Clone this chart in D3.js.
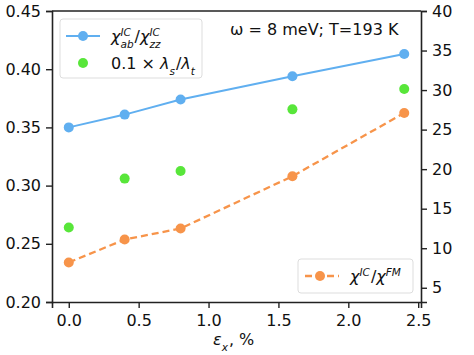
<!DOCTYPE html>
<html><head><meta charset="utf-8">
<script src="https://cdn.jsdelivr.net/npm/d3@7"></script>
<style>body{margin:0;background:#fff}svg{display:block;font-family:"DejaVu Sans",sans-serif}</style>
</head><body>
<script>
const strain = [0, 0.4, 0.8, 1.6, 2.4];
const chiRatioAbZz = [0.350, 0.361, 0.374, 0.394, 0.413];
const lambdaRatio = [0.264, 0.306, 0.3125, 0.3655, 0.383];
const chiICoverFM = [8.2, 11.1, 12.5, 19.1, 27.1];
const xTicks = [0, 0.5, 1.0, 1.5, 2.0, 2.5];
const yLeftTicks = [0.20, 0.25, 0.30, 0.35, 0.40, 0.45];
const yRightTicks = [5, 10, 15, 20, 25, 30, 35, 40];

const W = 474, H = 355;
const m = {l: 52, r: 421, t: 11, b: 302};
const blue = "#60aff0", green = "#58e63a", orange = "#f7944a";

const svg = d3.select("body").append("svg").attr("width", W).attr("height", H);
const x = d3.scaleLinear().domain([-0.12, 2.52]).range([m.l, m.r]);
const yL = d3.scaleLinear().domain([0.20, 0.45]).range([m.b, m.t]);
const yR = d3.scaleLinear().domain([3.2, 40]).range([m.b, m.t]);

const fs = 16;
function styleAxis(g){
  g.selectAll("path").attr("stroke","#222").attr("stroke-width",1.6);
  g.selectAll("line").attr("stroke","#222").attr("stroke-width",1.4);
  g.selectAll("text").attr("font-size",fs).attr("fill","#111").attr("font-family","DejaVu Sans");
}
svg.append("g").attr("transform",`translate(0,${m.b})`)
  .call(d3.axisBottom(x).tickValues(xTicks).tickFormat(d3.format(".1f")).tickSizeOuter(0).tickSize(6).tickPadding(7))
  .call(styleAxis);
svg.append("g").attr("transform",`translate(${m.l},0)`)
  .call(d3.axisLeft(yL).tickValues(yLeftTicks).tickFormat(d3.format(".2f")).tickSizeOuter(0).tickSize(6).tickPadding(5))
  .call(styleAxis);
svg.append("g").attr("transform",`translate(${m.r},0)`)
  .call(d3.axisRight(yR).tickValues(yRightTicks).tickFormat(d3.format("d")).tickSizeOuter(0).tickSize(6).tickPadding(5))
  .call(styleAxis);
svg.append("line").attr("x1",m.l).attr("x2",m.r).attr("y1",m.t).attr("y2",m.t).attr("stroke","#222").attr("stroke-width",1.6);

const bluePts = strain.map((s,i)=>[s,chiRatioAbZz[i]]);
const greenPts = strain.map((s,i)=>[s,lambdaRatio[i]]);
const orangePts = strain.map((s,i)=>[s,chiICoverFM[i]]);

svg.append("path").datum(bluePts)
  .attr("d", d3.line().x(d=>x(d[0])).y(d=>yL(d[1])))
  .attr("fill","none").attr("stroke",blue).attr("stroke-width",2);
svg.selectAll(".pb").data(bluePts).enter().append("circle")
  .attr("cx",d=>x(d[0])).attr("cy",d=>yL(d[1])).attr("r",5).attr("fill",blue);
svg.selectAll(".pg").data(greenPts).enter().append("circle")
  .attr("cx",d=>x(d[0])).attr("cy",d=>yL(d[1])).attr("r",5).attr("fill",green);
svg.append("path").datum(orangePts)
  .attr("d", d3.line().x(d=>x(d[0])).y(d=>yR(d[1])))
  .attr("fill","none").attr("stroke",orange).attr("stroke-width",2.3).attr("stroke-dasharray","7,4");
svg.selectAll(".po").data(orangePts).enter().append("circle")
  .attr("cx",d=>x(d[0])).attr("cy",d=>yR(d[1])).attr("r",5).attr("fill",orange);

svg.append("text").attr("x",230).attr("y",35).attr("font-size",fs).attr("fill","#111")
  .text("ω = 8 meV; T=193 K");

function mathText(g, x0, y0, parts){
  let cx = x0;
  parts.forEach(p=>{
    if(p.gap){ cx += p.gap; return; }
    if(p.sup!==undefined || p.sub!==undefined){
      let w = 0;
      if(p.sup!==undefined){
        const s = g.append("text").attr("x",cx).attr("y",y0-6).attr("font-size",10.5).attr("font-style","italic").attr("fill","#111").text(p.sup);
        w = Math.max(w, s.node().getComputedTextLength());
      }
      if(p.sub!==undefined){
        const s = g.append("text").attr("x",cx).attr("y",y0+6).attr("font-size",10.5).attr("font-style","italic").attr("fill","#111").text(p.sub);
        w = Math.max(w, s.node().getComputedTextLength());
      }
      cx += w + 1;
    } else {
      const s = g.append("text").attr("x",cx).attr("y",y0).attr("font-size",fs).attr("fill","#111")
        .attr("font-style",p.i?"italic":"normal").text(p.t);
      cx += s.node().getComputedTextLength();
    }
  });
}

// legend 1
const lg = svg.append("g");
lg.append("rect").attr("x",60).attr("y",19).attr("width",142).attr("height",59).attr("rx",3)
  .attr("fill","#fff").attr("fill-opacity",0.8).attr("stroke","#ddd").attr("stroke-width",1);
lg.append("line").attr("x1",66).attr("x2",100).attr("y1",36).attr("y2",36).attr("stroke",blue).attr("stroke-width",2);
lg.append("circle").attr("cx",83).attr("cy",36).attr("r",5).attr("fill",blue);
lg.append("circle").attr("cx",83).attr("cy",63).attr("r",5).attr("fill",green);
mathText(lg, 111, 42, [{t:"χ",i:true},{sup:"IC",sub:"ab"},{t:"/",i:false},{t:"χ",i:true},{sup:"IC",sub:"zz"}]);
mathText(lg, 111, 69, [{t:"0.1 ×",i:false},{gap:5},{t:"λ",i:true},{sub:"s"},{t:"/",i:false},{t:"λ",i:true},{sub:"t"}]);

// legend 2
const lg2 = svg.append("g");
lg2.append("rect").attr("x",298).attr("y",259).attr("width",115).attr("height",34).attr("rx",3)
  .attr("fill","#fff").attr("fill-opacity",0.8).attr("stroke","#ddd").attr("stroke-width",1);
lg2.append("line").attr("x1",305).attr("x2",339).attr("y1",276).attr("y2",276).attr("stroke",orange)
  .attr("stroke-width",2.3).attr("stroke-dasharray","7,4");
lg2.append("circle").attr("cx",320).attr("cy",276).attr("r",5).attr("fill",orange);
mathText(lg2, 350, 282, [{t:"χ",i:true},{sup:"IC"},{t:"/",i:false},{t:"χ",i:true},{sup:"FM"}]);

// x label
mathText(svg, 213, 345, [{t:"ε",i:true},{sub:"x"},{t:",",i:false},{gap:5},{t:"%",i:false}]);
</script>
</body></html>
